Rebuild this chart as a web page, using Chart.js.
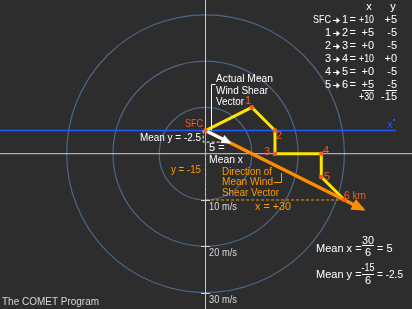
<!DOCTYPE html>
<html>
<head>
<meta charset="utf-8">
<script src="https://cdn.jsdelivr.net/npm/chart.js@4.4.0/dist/chart.umd.min.js"></script>
<style>
  html, body { margin: 0; padding: 0; background: #2d2d2d; overflow: hidden; }
  canvas { display: block; }
</style>
</head>
<body>
<canvas id="hodo" width="412" height="309"></canvas>
<script>
/* ── Datos del hodógrafo ─────────────────────────────── */
const ringSpeeds  = [10, 20, 30];
const ringLabels  = ['10 m/s', '20 m/s', '30 m/s'];

const layerFrom   = ['SFC', '1', '2', '3', '4', '5'];
const layerTo     = ['1', '2', '3', '4', '5', '6'];
const shearX      = [10, 5, 0, 10, 0, 5];
const shearY      = [5, -5, -5, 0, -5, -5];

const hodoLabels  = ['SFC', '1', '2', '3', '4', '5', '6 km'];
const hodoX       = [0, 10, 15, 15, 25, 25, 30];
const hodoY       = [5, 10, 5, 0, 0, -5, -10];

const directionEnd = [34, -12];   // punta de la flecha naranja

/* ── Derivados ───────────────────────────────────────── */
const sumX  = shearX.reduce((a, b) => a + b, 0);
const sumY  = shearY.reduce((a, b) => a + b, 0);
const nLay  = shearX.length;
const meanX = sumX / nLay;
const meanY = sumY / nLay;
const sfc   = [hodoX[0], hodoY[0]];
const fmt   = v => (v >= 0 ? '+' : '') + v;

const X_MIN = -44.4, X_MAX = 44.6, Y_MIN = -33.55, Y_MAX = 33.2;

const pts = (xs, ys) => xs.map((x, i) => ({ x, y: ys[i] }));

/* ── Plugins ─────────────────────────────────────────── */
const fondo = {
  id: 'fondo',
  beforeDraw(chart) {
    const c = chart.ctx;
    c.save();
    c.fillStyle = '#2d2d2d';
    c.fillRect(0, 0, chart.width, chart.height);
    c.restore();
  }
};

const anillos = {
  id: 'anillos',
  beforeDatasetsDraw(chart) {
    const { ctx, scales: { x, y } } = chart;
    const cx = x.getPixelForValue(0), cy = y.getPixelForValue(0);
    ctx.save();
    ctx.strokeStyle = '#4d6785';
    ctx.lineWidth = 1.2;
    ringSpeeds.forEach(s => {
      const r = x.getPixelForValue(s) - cx;
      ctx.beginPath();
      ctx.arc(cx, cy, r, 0, Math.PI * 2);
      ctx.stroke();
    });
    ctx.restore();
  }
};

function flecha(ctx, x0, y0, x1, y1, ahead, back, half, color) {
  const a = Math.atan2(y1 - y0, x1 - x0);
  const c = Math.cos(a), s = Math.sin(a);
  const tx = x1 + ahead * c, ty = y1 + ahead * s;
  const bx = x1 - back * c,  by = y1 - back * s;
  ctx.fillStyle = color;
  ctx.beginPath();
  ctx.moveTo(tx, ty);
  ctx.lineTo(bx + half * s, by - half * c);
  ctx.lineTo(bx - half * s, by + half * c);
  ctx.closePath();
  ctx.fill();
}

const textos = {
  id: 'textos',
  afterDatasetsDraw(chart) {
    const { ctx, scales: { x, y } } = chart;
    const px = v => x.getPixelForValue(v), py = v => y.getPixelForValue(v);
    const cx = px(0);

    ctx.save();
    // marcas de velocidad en el eje vertical
    ctx.strokeStyle = '#d4d4d4';
    ctx.lineWidth = 1;
    ringSpeeds.forEach(s => {
      const yy = Math.round(py(-s)) + 0.5;
      ctx.beginPath(); ctx.moveTo(cx - 4.5, yy); ctx.lineTo(cx + 4.5, yy); ctx.stroke();
    });

    // flechas
    flecha(ctx, px(sfc[0]), py(sfc[1]), px(directionEnd[0]), py(directionEnd[1]), 3, 11, 6, '#ff8c00');
    flecha(ctx, px(sfc[0]), py(sfc[1]), px(sfc[0] + meanX), py(sfc[1] + meanY), 3, 7, 4.5, '#ffffff');

    // puntos del hodógrafo encima
    ctx.fillStyle = '#ff5a1e';
    hodoX.forEach((v, i) => ctx.fillRect(px(v) - 2, py(hodoY[i]) - 2, 4, 4));

    // corchete "Actual Mean Wind Shear Vector"
    ctx.strokeStyle = '#ffffff';
    ctx.beginPath();
    ctx.moveTo(215.5, 84.5); ctx.lineTo(211.5, 84.5); ctx.lineTo(211.5, py(sfc[1]));
    ctx.stroke();

    // corchete "Mean Wind —"
    ctx.strokeStyle = '#ff9a00';
    ctx.beginPath();
    ctx.moveTo(274, 182.5); ctx.lineTo(281.5, 182.5); ctx.lineTo(281.5, 173);
    ctx.stroke();

    const F = '11px "Liberation Sans", Arial, sans-serif';
    ctx.font = F;
    ctx.textBaseline = 'middle';
    const t = (s, xx, yy, col, al, w) => {
      ctx.fillStyle = col;
      ctx.textAlign = al || 'left';
      if (w) ctx.fillText(s, xx, yy, w); else ctx.fillText(s, xx, yy);
    };

    const W = '#ffffff', OR = '#ff9a00', RO = '#ff5a1e', GR = '#d8d8d8';

    // etiquetas de los niveles
    const lblPos = [[203, 124, 'right', 18], [248, 101, 'center'], [276, 136, 'left'], [270, 152, 'right'],
                    [323, 151, 'left'], [324, 177, 'left'], [344, 196, 'left', 22]];
    hodoLabels.forEach((s, i) => { const p = lblPos[i]; t(s, p[0], p[1], RO, p[2], p[3]); });

    t('Actual Mean', 216, 79, W, 'left', 57);
    t('Wind Shear', 216, 91, W, 'left', 52);
    t('Vector', 216, 102, W, 'left', 28);

    t('Mean y = ' + meanY, 201, 138, W, 'right', 61);
    t(meanX + ' =', 209, 148, W, 'left');
    t('Mean x', 209, 160, W, 'left', 34);

    t('y = ' + sumY, 201, 170, OR, 'right', 30);
    t('Direction of', 222, 172, OR, 'left', 50);
    t('Mean Wind', 222, 182, OR, 'left', 51);
    t('Shear Vector', 222, 193, OR, 'left', 57);
    t('x = ' + fmt(sumX), 255, 207, OR, 'left', 36);

    ringLabels.forEach((s, i) => t(s, 209, py(-ringSpeeds[i]) + 7, GR, 'left', 28));
    t('The COMET Program', 2, 302, GR, 'left', 97);

    // eje x' azul
    ctx.fillStyle = '#1a5cff';
    t('x', 390, 125, '#1a5cff', 'center');
    ctx.fillRect(393, 119, 2, 2);

    // tabla
    t('x', 369, 7, W, 'center');
    t('y', 393, 7, W, 'center');
    layerFrom.forEach((s, i) => {
      const yy = 20 + i * 13;
      t(s, 331, yy, W, 'right', 18);
      // flechita
      ctx.strokeStyle = W; ctx.fillStyle = W; ctx.lineWidth = 1;
      ctx.beginPath(); ctx.moveTo(333, yy + 0.5); ctx.lineTo(337, yy + 0.5); ctx.stroke();
      ctx.beginPath(); ctx.moveTo(340, yy + 0.5); ctx.lineTo(336.5, yy - 2.5); ctx.lineTo(336.5, yy + 3.5); ctx.closePath(); ctx.fill();
      t(layerTo[i], 345, yy, W, 'center');
      t('=', 356, yy, W, 'right');
      t(fmt(shearX[i]), 374, yy, W, 'right', 15);
      t(fmt(shearY[i]), 397, yy, W, 'right');
    });
    ctx.fillStyle = W;
    ctx.fillRect(362, 90, 12, 1);
    ctx.fillRect(386, 90, 11, 1);
    t(fmt(sumX), 374, 97, W, 'right', 15);
    t(String(sumY), 397, 97, W, 'right');

    // fórmulas
    t('Mean x =', 316, 249, W, 'left', 46);
    t(String(sumX), 368, 241, W, 'center', 12);
    ctx.fillStyle = W; ctx.fillRect(362, 245, 12, 1);
    t(String(nLay), 368, 253, W, 'center');
    t('= ' + meanX, 377, 249, W, 'left');

    t('Mean y =', 316, 275, W, 'left', 46);
    t(String(sumY), 368, 268, W, 'center', 13);
    ctx.fillStyle = W; ctx.fillRect(362, 274, 12, 1);
    t(String(nLay), 368, 281, W, 'center');
    t('= ' + meanY, 377, 275, W, 'left', 26);

    ctx.restore();
  }
};

/* ── Gráfico ─────────────────────────────────────────── */
const linea = (data, color, width, order, extra) => Object.assign({
  data, borderColor: color, borderWidth: width, showLine: true,
  pointRadius: 0, fill: false, tension: 0, order
}, extra || {});

new Chart(document.getElementById('hodo').getContext('2d'), {
  type: 'scatter',
  data: {
    datasets: [
      linea(pts([sfc[0], sfc[0] + meanX], [sfc[1], sfc[1] + meanY]), '#ffffff', 3, 1),
      linea(pts([sfc[0], directionEnd[0]], [sfc[1], directionEnd[1]]), '#ff8c00', 3.5, 2),
      linea(pts(hodoX, hodoY), '#ffe400', 3, 3),
      linea(pts([-0.5, -0.5, sfc[0] + meanX], [sfc[1], sfc[1] + meanY, sfc[1] + meanY]), '#ffffff', 1, 4, { borderDash: [3, 2] }),
      linea(pts([sfc[0], sfc[0], hodoX[6]], [sfc[1], hodoY[6], hodoY[6]]), '#ff9a00', 1, 5, { borderDash: [3, 2] }),
      linea(pts([X_MIN, 41.1], [sfc[1], sfc[1]]), '#1a5cff', 1.5, 6),
      linea(pts([X_MIN, X_MAX], [0, 0]), '#cfcfcf', 1, 7),
      linea(pts([0, 0], [Y_MIN, Y_MAX]), '#cfcfcf', 1, 8)
    ]
  },
  options: {
    responsive: false,
    devicePixelRatio: 1,
    animation: false,
    events: [],
    layout: { padding: 0 },
    plugins: { legend: { display: false }, tooltip: { enabled: false } },
    scales: {
      x: { type: 'linear', min: X_MIN, max: X_MAX, display: false },
      y: { type: 'linear', min: Y_MIN, max: Y_MAX, display: false }
    }
  },
  plugins: [fondo, anillos, textos]
});
</script>
</body>
</html>
